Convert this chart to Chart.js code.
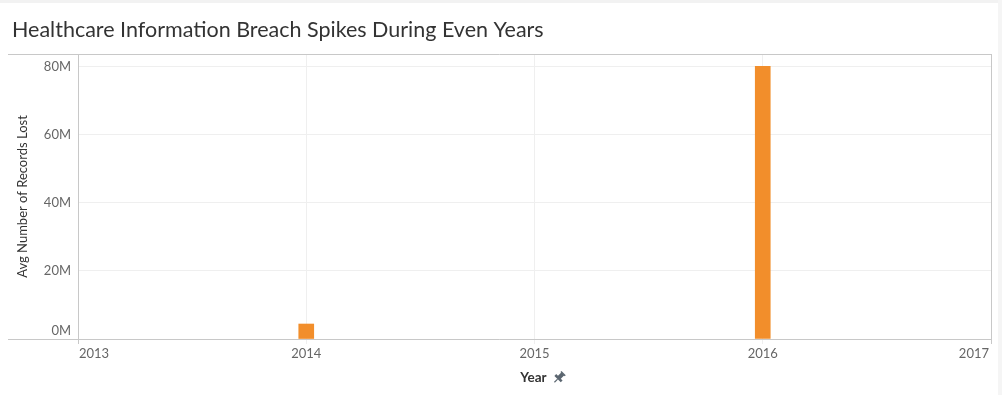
<!DOCTYPE html>
<html>
<head>
<meta charset="utf-8">
<script src="https://cdn.jsdelivr.net/npm/chart.js@4.4.1/dist/chart.umd.min.js"></script>
<style>
    html, body { margin: 0; padding: 0; background: #fff; }
    #wrap { width: 1002px; height: 395px; position: relative; }
</style>
</head>
<body>
<div id="wrap"><canvas id="breachChart"></canvas></div>
<script>
// Chart data
const chartTitle = 'Healthcare Information Breach Spikes During Even Years';
const years = [2014, 2016];
const avgRecordsLost = [4400000, 80100000];
const xTickValues = [2013, 2014, 2015, 2016, 2017];
const yTickValues = [0, 20000000, 40000000, 60000000, 80000000];
const yTickLabels = ['0M', '20M', '40M', '60M', '80M'];
const xAxisTitle = 'Year';
const yAxisTitle = 'Avg Number of Records Lost';

const FONT = 'Lato, "Open Sans", sans-serif';
const AXIS_GREY = '#c8c8c8';
const GRID_GREY = '#efefef';

// Tableau-style frame, labels and titles drawn around the Chart.js scales
const tableauFrame = {
    id: 'tableauFrame',
    beforeDraw(chart) {
        const ctx = chart.ctx;
        ctx.save();
        ctx.fillStyle = '#f2f2f2';
        ctx.fillRect(0, 0, chart.width, 3);
        ctx.fillStyle = '#f5f5f5';
        ctx.fillRect(chart.width - 4, 0, 4, chart.height);
        ctx.restore();
    },
    afterDraw(chart) {
        const ctx = chart.ctx;
        const area = chart.chartArea;
        const xs = chart.scales.x;
        const ys = chart.scales.y;
        ctx.save();

        // title
        ctx.fillStyle = '#333';
        ctx.font = '21.5px ' + FONT;
        ctx.textAlign = 'left';
        ctx.textBaseline = 'alphabetic';
        ctx.fillText(chartTitle, 12, 37);

        // frame lines: top and bottom run out to the left edge of the pane
        ctx.strokeStyle = AXIS_GREY;
        ctx.lineWidth = 1;
        ctx.beginPath();
        ctx.moveTo(8, Math.round(area.top) + 0.5);
        ctx.lineTo(area.right + 0.5, Math.round(area.top) + 0.5);
        ctx.moveTo(8, Math.round(area.bottom) + 0.5);
        ctx.lineTo(area.right + 0.5, Math.round(area.bottom) + 0.5);
        ctx.moveTo(Math.round(area.right) + 0.5, area.top);
        ctx.lineTo(Math.round(area.right) + 0.5, area.bottom + 5);
        ctx.stroke();

        // y tick labels, kept inside the pane like Tableau does
        ctx.fillStyle = '#666';
        ctx.font = '13px ' + FONT;
        ctx.textAlign = 'right';
        ctx.textBaseline = 'middle';
        yTickValues.forEach((v, i) => {
            let y = ys.getPixelForValue(v);
            y = Math.max(area.top + 8, Math.min(y, area.bottom - 8.5));
            ctx.fillText(yTickLabels[i], area.left - 7, y);
        });

        // x tick labels, clamped at both ends
        ctx.textAlign = 'center';
        xTickValues.forEach(v => {
            const label = String(v);
            const w = ctx.measureText(label).width;
            let x = xs.getPixelForValue(v);
            x = Math.max(area.left + 1 + w / 2, Math.min(x, area.right - 2 - w / 2));
            ctx.fillText(label, x, area.bottom + 15);
        });

        // y axis title
        ctx.fillStyle = '#333';
        ctx.font = '13px ' + FONT;
        ctx.save();
        ctx.translate(23, (area.top + area.bottom) / 2);
        ctx.rotate(-Math.PI / 2);
        ctx.fillText(yAxisTitle, 0, 0);
        ctx.restore();

        // x axis title with the little pin icon
        ctx.font = 'bold 13.5px ' + FONT;
        const mid = (area.left + area.right) / 2 - 1;
        ctx.fillText(xAxisTitle, mid, 378);
        const tw = ctx.measureText(xAxisTitle).width;
        ctx.save();
        ctx.translate(mid + tw / 2 + 12, 378);
        ctx.rotate(Math.PI / 4);
        ctx.fillStyle = '#5b6670';
        ctx.strokeStyle = '#5b6670';
        ctx.fillRect(-2, -6, 4, 6);     // pin body
        ctx.fillRect(-4.5, -1, 9, 2.5); // pin collar
        ctx.fillRect(-3, -7, 6, 1.5);   // pin head
        ctx.lineWidth = 1.2;
        ctx.beginPath();
        ctx.moveTo(0, 1.5);
        ctx.lineTo(0, 6);
        ctx.stroke();
        ctx.restore();

        ctx.restore();
    }
};

document.addEventListener('DOMContentLoaded', function () {
    const canvas = document.getElementById('breachChart');
    if (!canvas) return;

    new Chart(canvas.getContext('2d'), {
        type: 'bar',
        data: {
            datasets: [{
                label: yAxisTitle,
                data: years.map((yr, i) => ({ x: yr, y: avgRecordsLost[i] })),
                backgroundColor: '#F28E2B',
                borderWidth: 0,
                barThickness: 15
            }]
        },
        options: {
            responsive: true,
            maintainAspectRatio: false,
            animation: false,
            layout: {
                padding: { left: 8, right: 11, top: 54, bottom: 0 }
            },
            plugins: {
                legend: { display: false },
                title: { display: false },
                tooltip: { enabled: false }
            },
            scales: {
                x: {
                    type: 'linear',
                    offset: false,
                    min: 2013,
                    max: 2017,
                    afterBuildTicks: scale => { scale.ticks = xTickValues.map(v => ({ value: v })); },
                    afterFit: scale => { scale.height = 56; },
                    ticks: { display: false },
                    border: { display: false },
                    grid: {
                        offset: false,
                        color: c => (c.tick && (c.tick.value === 2013 || c.tick.value === 2017)) ? AXIS_GREY : GRID_GREY,
                        drawTicks: true,
                        tickLength: 5
                    }
                },
                y: {
                    min: 0,
                    max: 83700000,
                    afterBuildTicks: scale => { scale.ticks = yTickValues.map(v => ({ value: v })); },
                    afterFit: scale => { scale.width = 70; },
                    ticks: { display: false },
                    border: { display: true, color: AXIS_GREY },
                    grid: { color: GRID_GREY, drawTicks: false }
                }
            }
        },
        plugins: [tableauFrame]
    });
});
</script>
</body>
</html>
